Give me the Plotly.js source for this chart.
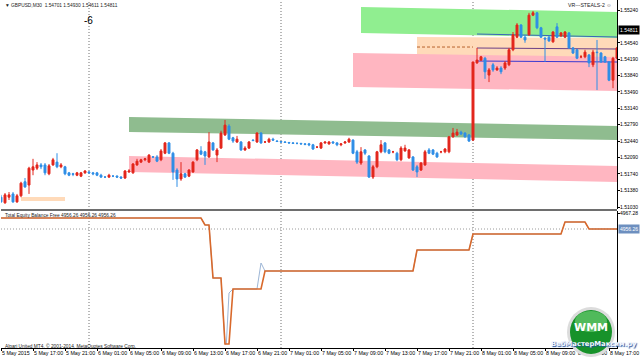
<!DOCTYPE html>
<html>
<head>
<meta charset="utf-8">
<script src="https://cdn.plot.ly/plotly-3.0.1.min.js"></script>
<style>html,body{margin:0;padding:0;background:#fff;}#chart{width:640px;height:360px;}</style>
</head>
<body>
<div id="chart"></div>
<script>
// ---------- DATA ----------
var barStart = '2015-05-05 13:00';   // first M30 bar
var barCount = 155;
var opens = [1.5124,1.5112,1.5124,1.5131,1.5114,1.5127,1.5157,1.5150,1.5182,1.5186,1.5193,1.5193,1.5174,1.5193,1.5199,1.5189,1.5189,1.5176,1.5174,1.5171,1.5169,1.5176,1.5178,1.5176,1.5176,1.5171,1.5167,1.5167,1.5169,1.5169,1.5167,1.5165,1.5178,1.5176,1.5193,1.5199,1.5204,1.5199,1.5210,1.5210,1.5204,1.5218,1.5240,1.5218,1.5182,1.5163,1.5174,1.5169,1.5178,1.5204,1.5223,1.5221,1.5210,1.5240,1.5214,1.5229,1.5257,1.5276,1.5251,1.5242,1.5242,1.5225,1.5229,1.5246,1.5242,1.5261,1.5242,1.5242,1.5248,1.5244,1.5243,1.5242,1.5241,1.5240,1.5239,1.5239,1.5238,1.5238,1.5236,1.5231,1.5229,1.5240,1.5238,1.5242,1.5240,1.5236,1.5240,1.5242,1.5246,1.5221,1.5197,1.5225,1.5212,1.5167,1.5189,1.5221,1.5240,1.5225,1.5221,1.5218,1.5204,1.5223,1.5208,1.5210,1.5189,1.5182,1.5193,1.5225,1.5225,1.5218,1.5221,1.5221,1.5221,1.5253,1.5257,1.5263,1.5261,1.5257,1.5246,1.5411,1.5417,1.5421,1.5385,1.5407,1.5396,1.5400,1.5400,1.5407,1.5439,1.5466,1.5492,1.5466,1.5471,1.5513,1.5518,1.5486,1.5464,1.5466,1.5456,1.5488,1.5469,1.5466,1.5475,1.5443,1.5439,1.5424,1.5424,1.5428,1.5407,1.5434,1.5432,1.5424,1.5413,1.5374,1.5421];
var highs = [1.5129,1.5133,1.5135,1.5135,1.5131,1.5157,1.5165,1.5189,1.5206,1.5199,1.5197,1.5197,1.5195,1.5208,1.5218,1.5197,1.5191,1.5178,1.5176,1.5178,1.5178,1.5182,1.5180,1.5178,1.5178,1.5174,1.5169,1.5174,1.5171,1.5171,1.5169,1.5182,1.5184,1.5197,1.5206,1.5206,1.5208,1.5216,1.5212,1.5214,1.5227,1.5242,1.5242,1.5221,1.5186,1.5199,1.5176,1.5184,1.5201,1.5227,1.5233,1.5223,1.5263,1.5242,1.5229,1.5266,1.5289,1.5280,1.5253,1.5255,1.5244,1.5233,1.5244,1.5248,1.5263,1.5263,1.5244,1.5251,1.5251,1.5246,1.5244,1.5244,1.5242,1.5242,1.5241,1.5240,1.5239,1.5240,1.5238,1.5233,1.5242,1.5242,1.5244,1.5244,1.5242,1.5238,1.5244,1.5251,1.5248,1.5225,1.5231,1.5227,1.5214,1.5193,1.5223,1.5246,1.5242,1.5227,1.5223,1.5221,1.5233,1.5236,1.5227,1.5212,1.5193,1.5199,1.5225,1.5229,1.5227,1.5221,1.5223,1.5229,1.5255,1.5272,1.5270,1.5266,1.5263,1.5259,1.5413,1.5443,1.5426,1.5424,1.5400,1.5411,1.5404,1.5404,1.5415,1.5443,1.5477,1.5496,1.5494,1.5471,1.5518,1.5522,1.5520,1.5488,1.5466,1.5469,1.5479,1.5496,1.5477,1.5479,1.5477,1.5445,1.5441,1.5428,1.5439,1.5430,1.5439,1.5460,1.5434,1.5426,1.5415,1.5424,1.5445];
var lows = [1.5112,1.5110,1.5118,1.5112,1.5112,1.5124,1.5144,1.5131,1.5171,1.5182,1.5184,1.5171,1.5171,1.5191,1.5186,1.5186,1.5171,1.5169,1.5169,1.5169,1.5167,1.5174,1.5174,1.5171,1.5169,1.5165,1.5165,1.5165,1.5167,1.5165,1.5163,1.5163,1.5176,1.5174,1.5191,1.5197,1.5201,1.5197,1.5208,1.5199,1.5201,1.5216,1.5216,1.5161,1.5146,1.5159,1.5165,1.5167,1.5176,1.5201,1.5214,1.5193,1.5208,1.5223,1.5199,1.5227,1.5255,1.5246,1.5240,1.5240,1.5223,1.5223,1.5227,1.5244,1.5240,1.5238,1.5240,1.5240,1.5244,1.5242,1.5240,1.5240,1.5238,1.5238,1.5237,1.5236,1.5235,1.5233,1.5225,1.5229,1.5227,1.5238,1.5236,1.5238,1.5233,1.5233,1.5238,1.5240,1.5216,1.5195,1.5193,1.5214,1.5165,1.5163,1.5186,1.5218,1.5218,1.5216,1.5218,1.5201,1.5201,1.5221,1.5206,1.5180,1.5167,1.5180,1.5191,1.5216,1.5214,1.5208,1.5218,1.5218,1.5218,1.5251,1.5255,1.5257,1.5251,1.5242,1.5244,1.5409,1.5415,1.5377,1.5370,1.5392,1.5394,1.5387,1.5396,1.5404,1.5436,1.5464,1.5464,1.5454,1.5469,1.5511,1.5483,1.5464,1.5413,1.5456,1.5454,1.5464,1.5466,1.5464,1.5441,1.5430,1.5419,1.5421,1.5421,1.5402,1.5402,1.5353,1.5411,1.5411,1.5372,1.5357,1.5419];
var closes = [1.5114,1.5129,1.5129,1.5114,1.5127,1.5154,1.5146,1.5186,1.5189,1.5193,1.5189,1.5176,1.5191,1.5204,1.5189,1.5193,1.5174,1.5171,1.5173,1.5176,1.5176,1.5180,1.5176,1.5174,1.5171,1.5167,1.5167,1.5171,1.5169,1.5167,1.5165,1.5180,1.5180,1.5195,1.5201,1.5204,1.5206,1.5214,1.5210,1.5201,1.5223,1.5240,1.5218,1.5178,1.5163,1.5174,1.5167,1.5182,1.5199,1.5225,1.5216,1.5212,1.5242,1.5225,1.5225,1.5261,1.5278,1.5248,1.5244,1.5248,1.5225,1.5229,1.5242,1.5245,1.5261,1.5240,1.5242,1.5248,1.5246,1.5243,1.5242,1.5241,1.5240,1.5239,1.5239,1.5238,1.5237,1.5236,1.5227,1.5231,1.5240,1.5242,1.5242,1.5240,1.5236,1.5238,1.5242,1.5248,1.5218,1.5199,1.5221,1.5218,1.5167,1.5189,1.5221,1.5236,1.5221,1.5218,1.5221,1.5204,1.5229,1.5229,1.5225,1.5182,1.5178,1.5197,1.5221,1.5218,1.5216,1.5210,1.5221,1.5227,1.5253,1.5261,1.5263,1.5259,1.5253,1.5244,1.5413,1.5417,1.5424,1.5392,1.5396,1.5396,1.5400,1.5392,1.5411,1.5439,1.5471,1.5492,1.5466,1.5460,1.5513,1.5518,1.5486,1.5466,1.5462,1.5458,1.5477,1.5466,1.5475,1.5477,1.5443,1.5432,1.5421,1.5424,1.5434,1.5411,1.5434,1.5433,1.5413,1.5413,1.5374,1.5421,1.5443];

// price axis labels (1.54890 sits behind the price box, so it is left out)
var priceTicks = [1.55240,1.54540,1.54190,1.53840,1.53490,1.53140,1.52790,1.52440,1.52090,1.51740,1.51380,1.51030];
var priceTickText = ['1.55240','1.54540','1.54190','1.53840','1.53490','1.53140','1.52790','1.52440','1.52090','1.51740','1.51380','1.51030'];
var currentPrice = 1.54811;

// time axis labels
var timeTicks = ['2015-05-05 13:00','2015-05-05 17:00','2015-05-05 21:00','2015-05-06 01:00','2015-05-06 05:00','2015-05-06 09:00','2015-05-06 13:00','2015-05-06 17:00','2015-05-06 21:00','2015-05-07 01:00','2015-05-07 05:00','2015-05-07 09:00','2015-05-07 13:00','2015-05-07 17:00','2015-05-07 21:00','2015-05-08 01:00','2015-05-08 05:00','2015-05-08 09:00','2015-05-08 13:00','2015-05-08 17:00'];
var timeTickText = ['5 May 2015','5 May 17:00','5 May 21:00','6 May 01:00','6 May 05:00','6 May 09:00','6 May 13:00','6 May 17:00','6 May 21:00','7 May 01:00','7 May 05:00','7 May 09:00','7 May 13:00','7 May 17:00','7 May 21:00','8 May 01:00','8 May 05:00','8 May 09:00','8 May 13:00','8 May 17:00'];
var daySeparators = ['2015-05-06 00:00','2015-05-07 00:00','2015-05-08 00:00'];

// indicator zones (sloped channels): start/end time, top/bottom at start and end
var zoneStart = ['2015-05-06 05:00','2015-05-06 05:00','2015-05-07 17:00','2015-05-07 09:00','2015-05-07 10:00','2015-05-05 15:30'];
var zoneEnd   = ['2015-05-08 18:00','2015-05-08 18:00','2015-05-08 18:00','2015-05-08 18:00','2015-05-08 18:00','2015-05-05 21:00'];
var zoneTop0  = [1.52954,1.52120,1.54663,1.54321,1.55304,1.51244];
var zoneBot0  = [1.52633,1.51778,1.54257,1.53595,1.54749,1.51159];
var zoneTop1  = [1.52761,1.51906,1.54642,1.54236,1.55198,1.51244];
var zoneBot1  = [1.52462,1.51565,1.54214,1.53509,1.54642,1.51159];

// indicator level lines
var lvlStart = ['2015-05-07 17:00','2015-05-08 00:30','2015-05-08 00:30','2015-05-08 00:30'];
var lvlEnd   = ['2015-05-08 00:00','2015-05-08 18:00','2015-05-08 18:00','2015-05-08 18:00'];
var lvlP0    = [1.54449,1.54428,1.54727,1.54150];
var lvlP1    = [1.54449,1.54407,1.54663,1.54129];

// Total Equity Balance Free sub-window
var balTime = ['2015-05-05 13:00','2015-05-06 14:00','2015-05-06 14:30','2015-05-06 15:00','2015-05-06 15:30','2015-05-06 16:30','2015-05-06 17:00','2015-05-06 17:30','2015-05-06 18:00','2015-05-06 21:30','2015-05-06 22:00','2015-05-07 16:30','2015-05-07 17:00','2015-05-07 23:30','2015-05-08 00:00','2015-05-08 11:00','2015-05-08 11:30','2015-05-08 14:00','2015-05-08 14:30','2015-05-08 18:00'];
var balance = [4963.84,4963.84,4959.02,4959.02,4922.50,4922.50,4877.03,4877.03,4914.92,4914.92,4927.32,4927.32,4941.79,4941.79,4952.82,4952.82,4961.08,4961.08,4956.26,4956.26];
var eqTime = ['2015-05-05 13:00','2015-05-06 14:00','2015-05-06 14:30','2015-05-06 15:00','2015-05-06 15:30','2015-05-06 16:30','2015-05-06 17:00','2015-05-06 17:10','2015-05-06 17:30','2015-05-06 18:00','2015-05-06 21:00','2015-05-06 21:30','2015-05-06 22:00','2015-05-07 16:30','2015-05-07 17:00','2015-05-07 23:30','2015-05-08 00:00','2015-05-08 11:00','2015-05-08 11:30','2015-05-08 14:00','2015-05-08 14:30','2015-05-08 18:00'];
var equity = [4963.84,4963.84,4959.02,4959.02,4922.50,4922.50,4877.03,4877.03,4912.16,4914.92,4914.92,4932.83,4927.32,4927.32,4941.79,4941.79,4952.82,4952.82,4961.08,4961.08,4956.26,4956.26];
var subTicks = [4967.28];
var subTickText = ['4967.28'];
var subLevel = 4956.26;

// ---------- BUILD ----------
function fmt(ms){var d=new Date(ms);function p(n){return (n<10?'0':'')+n;}
  return d.getUTCFullYear()+'-'+p(d.getUTCMonth()+1)+'-'+p(d.getUTCDate())+' '+p(d.getUTCHours())+':'+p(d.getUTCMinutes());}
var t0 = Date.parse(barStart.replace(' ','T')+':00Z');
var times = [];
for (var i=0;i<barCount;i++) times.push(fmt(t0+i*1800000));

var RED='#e3261c', BLUE='#2f8ee6';
var FONT='Liberation Sans, Arial, sans-serif';

var traces = [
  {type:'candlestick', x:times, open:opens, high:highs, low:lows, close:closes, xaxis:'x', yaxis:'y',
   increasing:{line:{color:RED,width:1}, fillcolor:RED},
   decreasing:{line:{color:BLUE,width:1}, fillcolor:BLUE},
   whiskerwidth:0, hoverinfo:'skip', showlegend:false},
  {type:'scatter', mode:'lines', x:eqTime, y:equity, xaxis:'x', yaxis:'y2',
   line:{color:'#9db6d6', width:1}, hoverinfo:'skip', showlegend:false},
  {type:'scatter', mode:'lines', x:balTime, y:balance, xaxis:'x', yaxis:'y2',
   line:{color:'#d9692b', width:1.6}, hoverinfo:'skip', showlegend:false}
];

function u(s){return s.replace(' ','_');}
var zoneFill = ['#8fbc8f','#ffb6c1','#ffdab9','#ffb6c1','#90ee90','#ffdab9'];
var shapes = [];
for (var z=0; z<zoneStart.length; z++){
  shapes.push({type:'path', xref:'x', yref:'y', layer:'below', line:{width:0}, fillcolor:zoneFill[z],
    path:'M '+u(zoneStart[z])+','+zoneTop0[z]+' L '+u(zoneEnd[z])+','+zoneTop1[z]+' L '+u(zoneEnd[z])+','+zoneBot1[z]+' L '+u(zoneStart[z])+','+zoneBot0[z]+' Z'});
}
var lvlStyle = [{color:'#b8642e',width:1,dash:'3px,2px'},{color:'#6b3f86',width:1},{color:'#3866b8',width:1},{color:'#3a3ad0',width:1}];
for (var k=0;k<lvlStart.length;k++){
  shapes.push({type:'line', xref:'x', yref:'y', layer:'below', x0:lvlStart[k], x1:lvlEnd[k], y0:lvlP0[k], y1:lvlP1[k], line:lvlStyle[k]});
}
daySeparators.forEach(function(d){
  shapes.push({type:'line', xref:'x', yref:'paper', layer:'below', x0:d, x1:d, y0:0, y1:1, line:{color:'#707070', width:1, dash:'1px,2px'}});
});
shapes.push({type:'line', xref:'paper', yref:'y2', layer:'below', x0:0, x1:1, y0:subLevel, y1:subLevel, line:{color:'#9a9a9a', width:1, dash:'1px,2px'}});

// layout helpers (pixel -> paper); plot area spans x 1..617, y 0..348
function PX(px){return (px-1)/616;}
function PY(py){return (348-py)/348;}
// panel separator
shapes.push({type:'line', xref:'paper', yref:'paper', x0:0, x1:1, y0:PY(210), y1:PY(210), line:{color:'#6e6e6e', width:2}});
// WMM logo
shapes.push({type:'circle', xref:'paper', yref:'paper', layer:'above', x0:PX(567), x1:PX(615), y0:PY(357), y1:PY(307), fillcolor:'#dcdcdc', line:{width:0}});
shapes.push({type:'circle', xref:'paper', yref:'paper', layer:'above', x0:PX(570), x1:PX(612), y0:PY(354), y1:PY(310), fillcolor:'#17922a', line:{width:0}});
shapes.push({type:'circle', xref:'paper', yref:'paper', layer:'above', x0:PX(575), x1:PX(607), y0:PY(332), y1:PY(311), fillcolor:'rgba(150,235,150,0.45)', line:{width:0}});

var annotations = [
  {xref:'paper', yref:'paper', x:PX(3), y:PY(5), xanchor:'left', yanchor:'middle', showarrow:false,
   text:'▼ GBPUSD,M30  1.54701 1.54930 1.54611 1.54811', font:{family:FONT, size:4.8, color:'#222'}},
  {xref:'paper', yref:'paper', x:PX(88), y:PY(20), xanchor:'center', yanchor:'middle', showarrow:false,
   text:'-6', font:{family:FONT, size:10, color:'#000'}},
  {xref:'paper', yref:'paper', x:PX(614), y:PY(5), xanchor:'right', yanchor:'middle', showarrow:false,
   text:'VR---STEALS-2 ☺', font:{family:FONT, size:5.2, color:'#222'}},
  {xref:'paper', yref:'y', x:1, y:currentPrice, xanchor:'left', yanchor:'middle', showarrow:false, xshift:1,
   text:'1.54811', bgcolor:'#000', borderpad:1, font:{family:FONT, size:5, color:'#fff'}},
  {xref:'paper', yref:'y2', x:1, y:subLevel, xanchor:'left', yanchor:'middle', showarrow:false, xshift:1,
   text:'4956.26', bgcolor:'#6d8fbf', borderpad:1, font:{family:FONT, size:5, color:'#fff'}},
  {xref:'paper', yref:'paper', x:PX(3), y:PY(215), xanchor:'left', yanchor:'middle', showarrow:false,
   text:'Total Equity Balance Free 4956.26 4956.26 4956.26', font:{family:FONT, size:4.8, color:'#222'}},
  {xref:'paper', yref:'paper', x:PX(3), y:PY(346), xanchor:'left', yanchor:'middle', showarrow:false,
   text:'Alpari United MT4, © 2001-2014, MetaQuotes Software Corp.', font:{family:FONT, size:4.8, color:'#222'}},
  {xref:'paper', yref:'paper', x:PX(591), y:PY(327), xanchor:'center', yanchor:'middle', showarrow:false,
   text:'<b>WMM</b>', font:{family:'DejaVu Sans, sans-serif', size:11, color:'#fff'}},
  {xref:'paper', yref:'paper', x:PX(594), y:PY(344), xanchor:'center', yanchor:'middle', showarrow:false,
   text:'<b>ВебМастерМаксим.ру</b>', font:{family:'DejaVu Sans, sans-serif', size:6.8, color:'#f4f8ff', shadow:'1px 1px 1px #1d4f9e'}}
];

var layout = {
  width:640, height:360, margin:{l:1, r:23, t:0, b:12, pad:0},
  paper_bgcolor:'#fff', plot_bgcolor:'#fff', showlegend:false,
  font:{family:FONT, size:5, color:'#000'},
  xaxis:{type:'date', anchor:'y2', range:['2015-05-05 13:00','2015-05-08 18:00'],
    rangeslider:{visible:false}, showgrid:false, zeroline:false,
    showline:true, linecolor:'#000', linewidth:1, ticks:'outside', ticklen:2, tickcolor:'#000',
    tickvals:timeTicks, ticktext:timeTickText, ticklabelposition:'outside right', tickangle:0,
    ticklabeloverflow:'allow', tickfont:{family:FONT, size:5.3, color:'#000'}},
  yaxis:{domain:[PY(209),1], anchor:'x', side:'right', range:[1.50988,1.55454],
    showgrid:false, zeroline:false, showline:true, linecolor:'#000', linewidth:1,
    ticks:'outside', ticklen:2, tickcolor:'#000', tickvals:priceTicks, ticktext:priceTickText,
    ticklabelstandoff:-1, tickfont:{family:FONT, size:5, color:'#000'}},
  yaxis2:{domain:[0,PY(211)], anchor:'x', side:'right', range:[4874.27,4968.66],
    showgrid:false, zeroline:false, showline:true, linecolor:'#000', linewidth:1,
    ticks:'outside', ticklen:2, tickcolor:'#000', tickvals:subTicks, ticktext:subTickText,
    ticklabelstandoff:-1, tickfont:{family:FONT, size:5, color:'#000'}},
  shapes:shapes, annotations:annotations
};

Plotly.newPlot('chart', traces, layout, {staticPlot:true, displayModeBar:false});
</script>
</body>
</html>
